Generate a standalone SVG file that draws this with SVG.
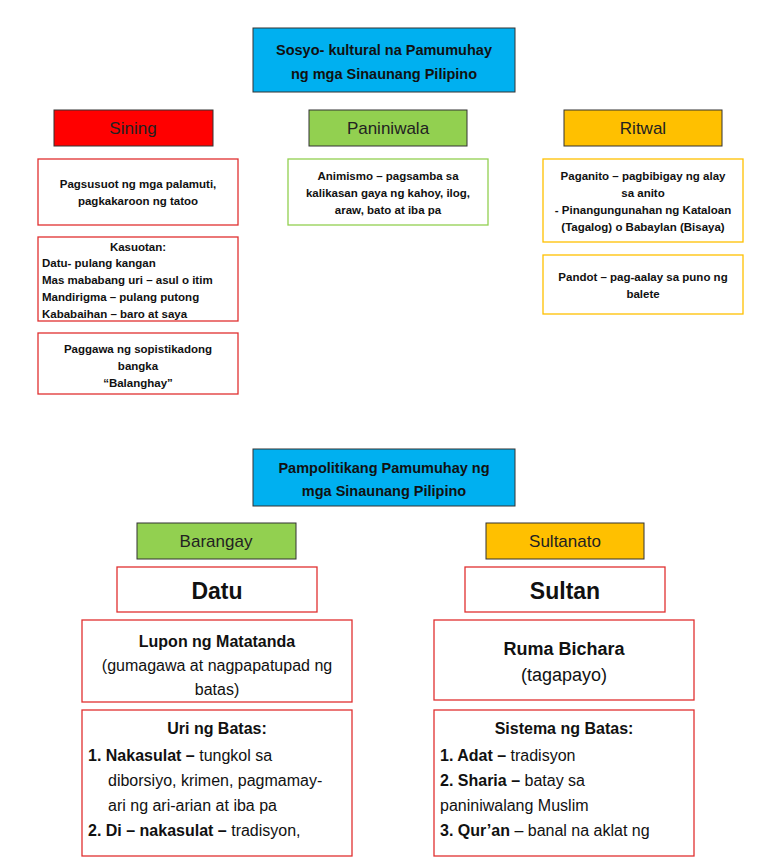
<svg xmlns="http://www.w3.org/2000/svg" width="768" height="866" viewBox="0 0 768 866">
<style>
text{font-family:"Liberation Sans","Noto Sans",sans-serif;fill:#111}
.t{font-size:14.5px;font-weight:bold;text-anchor:middle}
.h{font-size:17px;text-anchor:middle;fill:#222}
.s{font-size:11.5px;font-weight:600}
.c{text-anchor:middle}
.m{font-size:16px}
.b{font-weight:bold}
.r{fill:#fff;stroke:#E03030;stroke-width:1.3}
.g{fill:#fff;stroke:#92D050;stroke-width:1.3}
.y{fill:#fff;stroke:#FFC000;stroke-width:1.3}
.k{stroke:#333;stroke-width:1}
</style>
<g id="title1"><rect x="253" y="28" width="262" height="64" fill="#00B0F0" class="k"/><text class="t" x="384" y="55">Sosyo- kultural na Pamumuhay</text><text class="t" x="384" y="79">ng mga Sinaunang Pilipino</text></g>
<g id="sining"><rect x="54" y="110" width="159" height="36" fill="#FF0000" class="k"/><text class="h" x="133" y="134">Sining</text></g>
<g id="paniniwala"><rect x="309" y="110" width="158" height="36" fill="#92D050" class="k"/><text class="h" x="388" y="134">Paniniwala</text></g>
<g id="ritwal"><rect x="564" y="110" width="158" height="36" fill="#FFC000" class="k"/><text class="h" x="643" y="134">Ritwal</text></g>
<g id="s1"><rect class="r" x="38" y="159" width="200" height="66"/><text class="s c" x="138" y="188">Pagsusuot ng mga palamuti,</text><text class="s c" x="138" y="205">pagkakaroon ng tatoo</text></g>
<g id="s2"><rect class="r" x="38" y="237" width="200" height="84"/><text class="s c" x="138" y="251">Kasuotan:</text><text class="s" x="42" y="267">Datu- pulang kangan</text><text class="s" x="42" y="284">Mas mababang uri – asul o itim</text><text class="s" x="42" y="301">Mandirigma – pulang putong</text><text class="s" x="42" y="318">Kababaihan – baro at saya</text></g>
<g id="s3"><rect class="r" x="38" y="333" width="200" height="61"/><text class="s c" x="138" y="353">Paggawa ng sopistikadong</text><text class="s c" x="138" y="370">bangka</text><text class="s c" x="138" y="387">“Balanghay”</text></g>
<g id="p1"><rect class="g" x="288" y="159" width="200" height="66"/><text class="s c" x="388" y="180">Animismo – pagsamba sa</text><text class="s c" x="388" y="197">kalikasan gaya ng kahoy, ilog,</text><text class="s c" x="388" y="214">araw, bato at iba pa</text></g>
<g id="r1"><rect class="y" x="543" y="159" width="200" height="83"/><text class="s c" x="643" y="180">Paganito – pagbibigay ng alay</text><text class="s c" x="643" y="197">sa anito</text><text class="s c" x="643" y="214">- Pinangungunahan ng Kataloan</text><text class="s c" x="643" y="231">(Tagalog) o Babaylan (Bisaya)</text></g>
<g id="r2"><rect class="y" x="543" y="255" width="200" height="59"/><text class="s c" x="643" y="281">Pandot – pag-aalay sa puno ng</text><text class="s c" x="643" y="298">balete</text></g>
<g id="title2"><rect x="253" y="449" width="262" height="57" fill="#00B0F0" class="k"/><text class="t" x="384" y="473">Pampolitikang Pamumuhay ng</text><text class="t" x="384" y="496">mga Sinaunang Pilipino</text></g>
<g id="barangay"><rect x="137" y="523" width="159" height="36" fill="#92D050" class="k"/><text class="h" x="216" y="547">Barangay</text></g>
<g id="sultanato"><rect x="486" y="523" width="158" height="36" fill="#FFC000" class="k"/><text class="h" x="565" y="547">Sultanato</text></g>
<g id="datu"><rect class="r" x="117" y="567" width="200" height="45"/><text class="c b" x="217" y="599" font-size="23">Datu</text></g>
<g id="sultan"><rect class="r" x="465" y="567" width="200" height="45"/><text class="c b" x="565" y="599" font-size="23">Sultan</text></g>
<g id="lupon"><rect class="r" x="82" y="620" width="270" height="82"/><text class="m c b" x="217" y="647">Lupon ng Matatanda</text><text class="m c" x="217" y="671">(gumagawa at nagpapatupad ng</text><text class="m c" x="217" y="695">batas)</text></g>
<g id="ruma"><rect class="r" x="434" y="620" width="260" height="80"/><text class="c b" x="564" y="655" font-size="18">Ruma Bichara</text><text class="c" x="564" y="681" font-size="18">(tagapayo)</text></g>
<g id="uri"><rect class="r" x="82" y="710" width="270" height="146"/><text class="m c b" x="217" y="734">Uri ng Batas:</text><text class="m" x="88" y="761"><tspan class="b">1.  Nakasulat –</tspan> tungkol sa</text><text class="m" x="108" y="786">diborsiyo, krimen, pagmamay-</text><text class="m" x="108" y="811">ari ng ari-arian at iba pa</text><text class="m" x="88" y="836"><tspan class="b">2. Di – nakasulat –</tspan> tradisyon,</text><text class="m" x="88" y="849" dy="0"> </text><text class="m" x="88" y="849" visibility="hidden">.</text></g>
<g id="uri2"><text class="m" x="88" y="847" dy="-3" visibility="hidden">x</text></g>
<g id="sistema"><rect class="r" x="434" y="710" width="260" height="146"/><text class="m c b" x="564" y="734">Sistema ng Batas:</text><text class="m" x="440" y="761"><tspan class="b">1.  Adat –</tspan> tradisyon</text><text class="m" x="440" y="786"><tspan class="b">2. Sharia –</tspan> batay sa</text><text class="m" x="440" y="811">paniniwalang Muslim</text><text class="m" x="440" y="836"><tspan class="b">3. Qur’an</tspan> – banal na aklat ng</text><text class="m" x="440" y="850" visibility="hidden">.</text></g>
</svg>
